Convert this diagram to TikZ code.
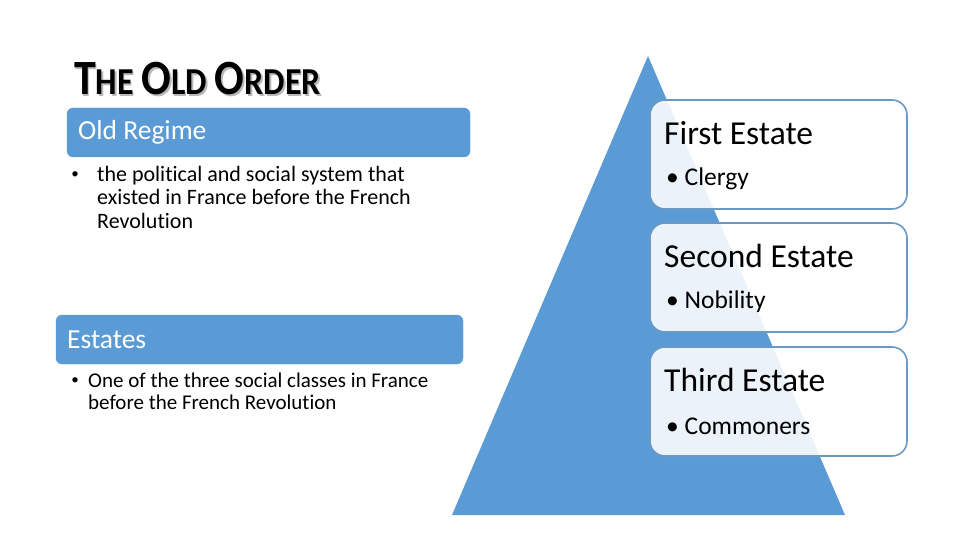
\documentclass[tikz,border=0pt]{standalone}
\usepackage{fontspec}
\setmainfont{Carlito}[Ligatures=NoCommon]
\definecolor{accent}{RGB}{91,155,213}
\definecolor{boxline}{RGB}{108,153,196}
\definecolor{shadowgray}{RGB}{185,185,185}
\newcommand{\titletext}{\bfseries\fontsize{44}{46}\selectfont T\fontsize{34}{36}\selectfont HE \fontsize{44}{46}\selectfont O\fontsize{34}{36}\selectfont LD \fontsize{44}{46}\selectfont O\fontsize{34}{36}\selectfont RDER}
\newcommand{\titlewithshadow}{\scalebox{1}[1.12]{\makebox[0pt][l]{\hspace{1.5pt}\raisebox{-1.5pt}{\color{shadowgray}\titletext}}\titletext}}
\tikzset{
  headbox/.style={fill=accent, draw=accent, rounded corners=6pt},
  estatebox/.style={fill=white, fill opacity=0.88, draw=boxline, line width=1.6pt, rounded corners=15pt},
  headtext/.style={anchor=west, inner sep=0pt, text=white, font=\fontsize{27.5}{31}\selectfont},
  bullet/.style={anchor=center, inner sep=0pt, font=\fontsize{15}{16}\selectfont},
  bodytext/.style={anchor=north west, inner sep=0pt, align=left},
  estatetitle/.style={anchor=west, inner sep=0pt, font=\fontsize{33.5}{37}\selectfont},
  estateitem/.style={anchor=west, inner sep=0pt, font=\fontsize{25.5}{29}\selectfont},
}
\begin{document}
\begin{tikzpicture}[x=1pt, y=-1pt]
\useasboundingbox (0,0) rectangle (960,540);
% title
\node[anchor=base west, inner sep=0pt] (title) at (74,95) {\titlewithshadow};
% pyramid
\fill[accent] (648,56) -- (845,515) -- (452,515) -- cycle;
\coordinate (apex) at (648,56);
% left header boxes
\draw[headbox] (67,108) rectangle (470,157);
\node[headtext] (oldregime) at (78,132) {Old Regime};
\node[bullet] (b1) at (75,175) {•};
\node[bodytext, font=\fontsize{22}{23.5}\selectfont] (oldregimetext) at (97,166) {the political and social system that\\existed in France before the French\\Revolution};
\draw[headbox] (56,315) rectangle (463,364);
\node[headtext] (estates) at (67,340) {Estates};
\node[bullet] (b2) at (75,381.5) {•};
\node[bodytext, font=\fontsize{21}{22.5}\selectfont] (estatestext) at (88,372.5) {One of the three social classes in France\\before the French Revolution};
% right boxes
\draw[estatebox] (650,100) rectangle (907,209);
\node[estatetitle] (first) at (664,133) {First Estate};
\node[estateitem] (clergy) at (666,179) {• Clergy};
\draw[estatebox] (650,223) rectangle (907,332);
\node[estatetitle] (second) at (664,256) {Second Estate};
\node[estateitem] (nobility) at (666,302) {• Nobility};
\draw[estatebox] (650,347) rectangle (907,456);
\node[estatetitle] (third) at (664,380) {Third Estate};
\node[estateitem] (commoners) at (666,426) {• Commoners};
\end{tikzpicture}
\end{document}
